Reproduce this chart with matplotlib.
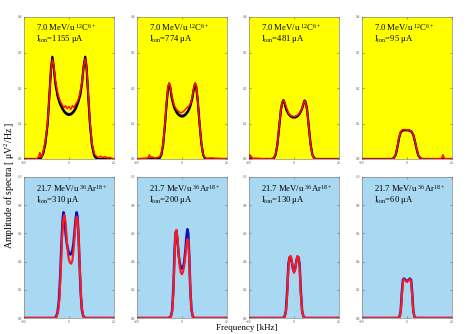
import numpy as np
import matplotlib
matplotlib.use("Agg")
import matplotlib.pyplot as plt

plt.rcParams['font.family'] = ['Liberation Serif', 'DejaVu Serif']
plt.rcParams['mathtext.fontset'] = 'custom'
plt.rcParams['mathtext.rm'] = 'Liberation Serif'
plt.rcParams['mathtext.it'] = 'Liberation Serif:italic'

# ---- top row: 7.0 MeV/u 12C6+ ----
top_currents = ['1155', '774', '481', '95']

t1_x = [-20, -14, -12.5, -11.5, -10.5, -9.5, -8.7, -8, -7.4, -6.8, -6, -5, -4, -3, -2, -1, 0, 1, 2, 3,
        4, 5, 5.8, 6.5, 7.2, 7.8, 8.5, 9.3, 10.2, 11.2, 12.2, 14, 20]
t1_black = [0, 0, 0.003, 0.015, 0.045, 0.1, 0.18, 0.255, 0.288, 0.26, 0.21, 0.175, 0.155, 0.142, 0.132, 0.126, 0.124, 0.126, 0.132, 0.142,
            0.158, 0.18, 0.215, 0.26, 0.288, 0.26, 0.185, 0.1, 0.04, 0.01, 0.002, 0, 0]
t1_blue = [0, 0, 0.002, 0.014, 0.042, 0.097, 0.178, 0.25, 0.285, 0.262, 0.213, 0.178, 0.158, 0.145, 0.135, 0.129, 0.127, 0.129, 0.135, 0.145,
           0.16, 0.182, 0.217, 0.262, 0.285, 0.255, 0.18, 0.098, 0.038, 0.009, 0.002, 0, 0]
t1_red_x = [-20, -15, -14, -13.3, -13, -12.6, -12, -11.5, -10.5, -9.5, -8.7, -8, -7.4, -6.8, -6, -5, -4, -3, -2.2, -1.5,
            -0.8, 0, 0.8, 1.5, 2.2, 3, 4, 5, 5.8, 6.5, 7.2, 7.8, 8.5, 9.3, 10.2, 11.2, 12.2, 13, 14, 15, 16, 17, 18, 20]
t1_red = [0, 0, 0.002, 0.01, 0.018, 0.005, 0.008, 0.02, 0.05, 0.105, 0.18, 0.25, 0.28, 0.265, 0.22, 0.185, 0.165, 0.152, 0.145, 0.15,
          0.142, 0.148, 0.14, 0.15, 0.145, 0.155, 0.165, 0.19, 0.22, 0.26, 0.282, 0.262, 0.19, 0.105, 0.045, 0.015, 0.008, 0.004, 0.008, 0.004,
          0.007, 0.003, 0.004, 0]

t2_x = [-20, -11, -10, -9.2, -8.4, -7.6, -6.8, -6.2, -5.7, -5.2, -4.5, -3.5, -2.5, -1.5, -0.5, 0.5, 1.5, 2.5, 3.5, 4.5,
        5.2, 5.8, 6.3, 7, 7.8, 8.6, 9.4, 10.2, 11, 20]
t2_black = [0, 0, 0.002, 0.012, 0.04, 0.095, 0.16, 0.2, 0.212, 0.2, 0.17, 0.145, 0.132, 0.124, 0.12, 0.12, 0.124, 0.132, 0.145, 0.168,
            0.195, 0.212, 0.205, 0.165, 0.1, 0.045, 0.012, 0.002, 0, 0]
t2_blue = [0, 0, 0.002, 0.011, 0.038, 0.092, 0.158, 0.198, 0.21, 0.202, 0.173, 0.148, 0.135, 0.127, 0.123, 0.123, 0.127, 0.135, 0.148, 0.17,
           0.197, 0.21, 0.203, 0.162, 0.098, 0.043, 0.011, 0.002, 0, 0]
t2_red_x = [-20, -17, -15, -14.5, -14, -13.5, -12, -11, -10, -9.2, -8.4, -7.6, -6.8, -6.2, -5.7, -5.2, -4.5, -3.5, -2.5, -1.5,
            -0.5, 0.5, 1.5, 2.5, 3.2, 4, 4.8, 5.4, 5.9, 6.4, 7, 7.8, 8.6, 9.4, 10.2, 11, 13, 15, 20]
t2_red = [0, 0.002, 0.003, 0.012, 0.004, 0.006, 0.003, 0.004, 0.006, 0.015, 0.043, 0.1, 0.165, 0.205, 0.215, 0.205, 0.178, 0.152, 0.14, 0.134,
          0.13, 0.133, 0.14, 0.146, 0.15, 0.16, 0.185, 0.205, 0.215, 0.205, 0.165, 0.1, 0.045, 0.013, 0.004, 0.002, 0.003, 0.002, 0]

t3_x = [-20, -10, -9, -8.2, -7.4, -6.6, -5.8, -5.2, -4.7, -4.2, -3.5, -2.5, -1.5, -0.5, 0.5, 1.5, 2.5, 3.5, 4.2, 4.7,
        5.2, 5.8, 6.6, 7.4, 8.2, 9, 10, 20]
t3_black = [0, 0, 0.002, 0.012, 0.04, 0.09, 0.14, 0.16, 0.166, 0.158, 0.14, 0.127, 0.12, 0.117, 0.117, 0.12, 0.127, 0.14, 0.155, 0.165,
            0.16, 0.14, 0.09, 0.04, 0.012, 0.002, 0, 0]
t3_blue = [0, 0, 0.002, 0.011, 0.038, 0.088, 0.138, 0.158, 0.164, 0.158, 0.142, 0.129, 0.122, 0.119, 0.119, 0.122, 0.129, 0.141, 0.154, 0.163,
           0.158, 0.138, 0.088, 0.039, 0.011, 0.002, 0, 0]
t3_red_x = [-20, -19.7, -19.4, -19, -18.5, -17, -12, -10, -9, -8.2, -7.4, -6.6, -5.8, -5.2, -4.7, -4.2, -3.5, -2.5, -1.5, -0.5,
            0.5, 1.5, 2.5, 3.5, 4.2, 4.7, 5.2, 5.8, 6.6, 7.4, 8.2, 9, 10, 20]
t3_red = [0.004, 0.012, 0.003, 0.008, 0.002, 0.002, 0, 0.001, 0.003, 0.013, 0.042, 0.092, 0.142, 0.162, 0.165, 0.16, 0.148, 0.13, 0.122, 0.12,
          0.12, 0.123, 0.13, 0.142, 0.156, 0.164, 0.158, 0.138, 0.088, 0.038, 0.011, 0.002, 0, 0]

t4_x = [-20, -7, -6, -5, -4.2, -3.5, -2.8, -2, -1, 0, 1, 2, 2.8, 3.5, 4.2, 5, 6, 7, 20]
t4_black = [0, 0, 0.002, 0.012, 0.035, 0.06, 0.075, 0.08, 0.081, 0.081, 0.08, 0.077, 0.068, 0.05, 0.03, 0.01, 0.002, 0, 0]
t4_blue = [0, 0, 0.002, 0.013, 0.036, 0.061, 0.076, 0.081, 0.082, 0.082, 0.081, 0.078, 0.069, 0.051, 0.031, 0.011, 0.002, 0, 0]
t4_red_x = [-20, -7, -6, -5, -4.2, -3.5, -2.8, -2, -1, 0, 1, 2, 2.8, 3.5, 4.2, 5, 6, 7, 15, 15.5, 16, 16.5, 17, 20]
t4_red = [0, 0, 0.003, 0.014, 0.038, 0.063, 0.077, 0.082, 0.083, 0.082, 0.081, 0.078, 0.07, 0.052, 0.032, 0.012, 0.003, 0, 0.001, 0.004,
          0.012, 0.003, 0.001, 0]

# ---- bottom row: 21.7 MeV/u 36Ar18+ ----
bottom_currents = ['310', '200', '130', '60']

b1_x = [-20, -6.5, -5.7, -5.1, -4.5, -3.9, -3.3, -2.8, -2.4, -2, -1.5, -1, -0.5, 0, 0.5, 1, 1.5, 2, 2.5, 3,
        3.4, 3.8, 4.2, 4.7, 5.2, 5.7, 6.3, 7, 20]
b1_blue = [0, 0, 0.01, 0.04, 0.12, 0.3, 0.55, 0.71, 0.75, 0.7, 0.6, 0.53, 0.49, 0.46, 0.45, 0.455, 0.48, 0.53, 0.62, 0.71,
           0.75, 0.72, 0.6, 0.38, 0.18, 0.06, 0.015, 0, 0]
b1_red_x = [-20, -6.5, -5.5, -4.8, -4.2, -3.6, -3, -2.5, -2, -1.5, -1, -0.5, 0, 0.5, 1, 1.5, 2, 2.5, 3, 3.4,
            3.8, 4.2, 4.7, 5.2, 5.7, 6.3, 7, 20]
b1_red = [0, 0, 0.01, 0.05, 0.15, 0.36, 0.6, 0.71, 0.73, 0.68, 0.56, 0.46, 0.41, 0.39, 0.385, 0.41, 0.48, 0.58, 0.68, 0.72,
          0.7, 0.6, 0.4, 0.2, 0.07, 0.02, 0, 0]

b2_x = [-20, -6, -5, -4.4, -3.8, -3.3, -2.9, -2.5, -2, -1.5, -1, -0.5, 0, 0.5, 1, 1.5, 2, 2.4, 2.8, 3.2,
        3.7, 4.2, 4.8, 5.5, 20]
b2_blue = [0, 0, 0.01, 0.05, 0.22, 0.48, 0.6, 0.62, 0.55, 0.45, 0.39, 0.36, 0.35, 0.36, 0.4, 0.48, 0.58, 0.63, 0.6, 0.45,
           0.2, 0.06, 0.01, 0, 0]
b2_red = [0, 0, 0.008, 0.04, 0.18, 0.44, 0.6, 0.625, 0.57, 0.45, 0.36, 0.32, 0.31, 0.33, 0.37, 0.44, 0.52, 0.56, 0.55, 0.42,
          0.2, 0.06, 0.01, 0, 0]

b3_x = [-20, -5, -4.2, -3.6, -3, -2.5, -2, -1.5, -1, -0.5, 0, 0.5, 1, 1.5, 2, 2.5, 3, 3.6, 4.2, 5, 20]
b3_blue = [0, 0, 0.01, 0.05, 0.2, 0.38, 0.43, 0.435, 0.4, 0.35, 0.33, 0.35, 0.4, 0.435, 0.43, 0.38, 0.2, 0.05, 0.01, 0, 0]
b3_red = [0, 0, 0.008, 0.04, 0.17, 0.36, 0.43, 0.44, 0.41, 0.35, 0.32, 0.34, 0.4, 0.44, 0.43, 0.37, 0.18, 0.05, 0.01, 0, 0]

b4_x = [-20, -4, -3.3, -2.8, -2.3, -1.8, -1.3, -0.7, 0, 0.7, 1.3, 1.8, 2.3, 2.8, 3.3, 4, 20]
b4_blue = [0, 0, 0.01, 0.05, 0.18, 0.27, 0.28, 0.27, 0.26, 0.27, 0.28, 0.27, 0.18, 0.05, 0.01, 0, 0]
b4_red = [0, 0, 0.008, 0.04, 0.15, 0.26, 0.275, 0.265, 0.255, 0.265, 0.275, 0.26, 0.16, 0.045, 0.008, 0, 0]

top_data = [
    (t1_x, t1_black, t1_blue, t1_red_x, t1_red),
    (t2_x, t2_black, t2_blue, t2_red_x, t2_red),
    (t3_x, t3_black, t3_blue, t3_red_x, t3_red),
    (t4_x, t4_black, t4_blue, t4_red_x, t4_red),
]
bottom_data = [
    (b1_x, b1_blue, b1_red_x, b1_red),
    (b2_x, b2_blue, b2_x, b2_red),
    (b3_x, b3_blue, b3_x, b3_red),
    (b4_x, b4_blue, b4_x, b4_red),
]

yellow = '#ffff00'
lightblue = '#a9d9f2'

fig = plt.figure(figsize=(4.74, 3.34), dpi=100)

W, H = 474, 334
lefts = [24, 137, 249, 362]
pw = 90


def style_axes(ax, yticks):
    ax.set_xlim(-20, 20)
    ax.set_xticks([-20, 0, 20])
    ax.set_yticks(yticks)
    ax.set_yticklabels(['%.1f' % v for v in yticks])
    ax.tick_params(direction='in', length=1.5, width=0.4, labelsize=2.5, pad=1.5,
                   top=True, right=True, colors='#555555')
    for s in ax.spines.values():
        s.set_linewidth(0.5)
        s.set_color('#888888')


fs = 6.2

for i, (x, bk, bl, rx, rd) in enumerate(top_data):
    ax = fig.add_axes([lefts[i] / W, 1 - 159 / H, pw / W, 142 / H])
    ax.set_facecolor(yellow)
    ax.plot(x, bk, color='black', lw=1.6, zorder=3)
    ax.plot(x, bl, color='#1010c0', lw=1.2, zorder=2)
    ax.plot(rx, rd, color='#ff1010', lw=1.1, zorder=4)
    ax.set_ylim(0, 0.4)
    style_axes(ax, [0.0, 0.1, 0.2, 0.3, 0.4])
    ax.text(0.13, 0.925, r'7.0 MeV/u $^{12}$C$^{6+}$', transform=ax.transAxes, fontsize=fs, va='center')
    ax.text(0.13, 0.845, r'I$_{\mathrm{ion}}$=%s μA' % top_currents[i], transform=ax.transAxes, fontsize=fs, va='center')

for i, (x, bl, rx, rd) in enumerate(bottom_data):
    ax = fig.add_axes([lefts[i] / W, 1 - 318 / H, pw / W, 141 / H])
    ax.set_facecolor(lightblue)
    ax.plot(x, bl, color='#1010c0', lw=1.8, zorder=2)
    ax.plot(rx, rd, color='#ff1a1a', lw=1.5, zorder=3)
    ax.set_ylim(0, 1.0)
    style_axes(ax, [0.0, 0.2, 0.4, 0.6, 0.8, 1.0])
    ax.text(0.13, 0.915, r'21.7 MeV/u $^{36}$Ar$^{18+}$', transform=ax.transAxes, fontsize=fs, va='center')
    ax.text(0.13, 0.835, r'I$_{\mathrm{ion}}$=%s μA' % bottom_currents[i], transform=ax.transAxes, fontsize=fs, va='center')

fig.text(10 / W, 1 - 185 / H, r'Amplitude of spectra [ μV$^2$/Hz ]', rotation=90,
         fontsize=7, ha='center', va='center')
fig.text(247 / W, 1 - 328 / H, 'Frequency [kHz]', fontsize=6.5, ha='center', va='center')

fig.savefig('out.png', dpi=100, facecolor='white')
